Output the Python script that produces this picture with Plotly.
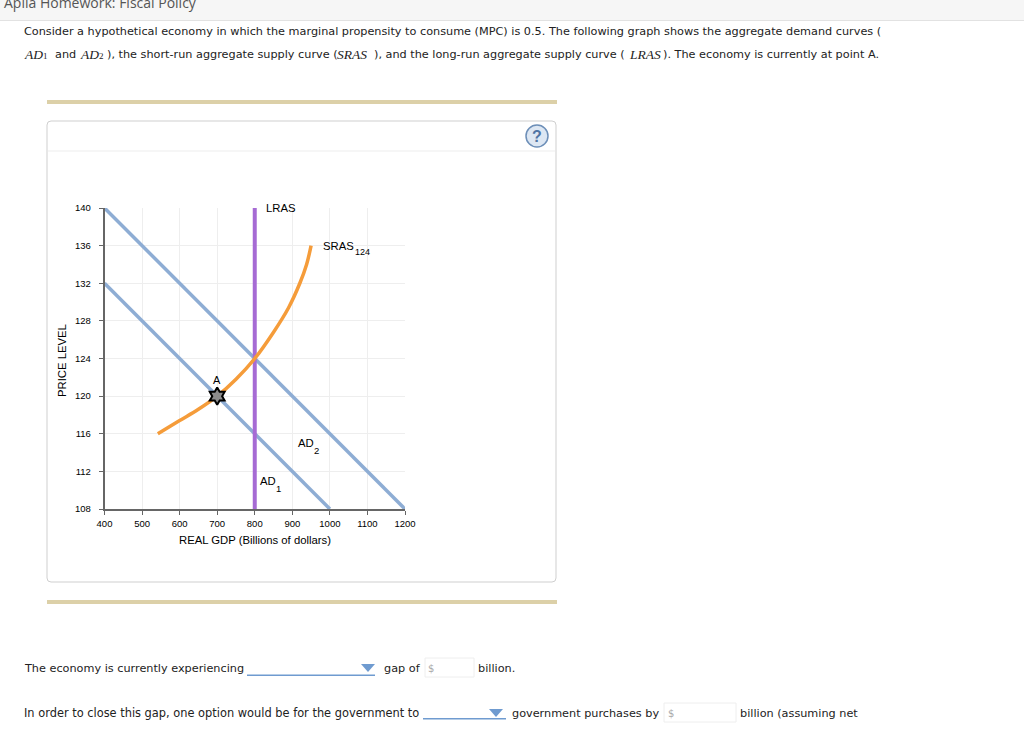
# Recreates the Aplia fiscal policy question page with its AS/AD graph

import plotly.graph_objects as go

W = 1024
H = 729

x_ticks = [400, 500, 600, 700, 800, 900, 1000, 1100, 1200]
y_ticks = [108, 112, 116, 120, 124, 128, 132, 136, 140]

ad1_x = [400, 1000]
ad1_y = [132, 108]
ad2_x = [400, 1200]
ad2_y = [140, 108]
lras_x = [800, 800]
lras_y = [108, 140]
sras_x = [542, 600, 650, 700, 750, 800, 850, 890, 920, 938, 950]
sras_y = [116, 117.4, 118.6, 120, 121.8, 124, 126.8, 129.4, 132, 134, 136]
point_a_x = [700]
point_a_y = [120]

TEXT = "#222222"
BODY_FONT = "DejaVu Sans"
CHART_FONT = "Liberation Sans"
SERIF = "Liberation Serif"
BLUE = "#6f9bd0"


def px(x):
    return x / W


def py(y):
    return 1 - y / H


def page_text(x, y, text, size=11.25, font=BODY_FONT, color=TEXT, anchor="left", **kw):
    return dict(xref="paper", yref="paper", x=px(x), y=py(y), text=text, showarrow=False,
                xanchor=anchor, yanchor="middle", borderpad=0,
                font=dict(family=font, size=size, color=color), **kw)


def chart_text(x, y, text, size=11.3, anchor="left", **kw):
    return page_text(x, y, text, size=size, font=CHART_FONT, color="#000000", anchor=anchor, **kw)


def rect(x0, y0, x1, y1, fill="rgba(0,0,0,0)", line=None, width=1):
    return dict(type="rect", xref="paper", yref="paper", x0=px(x0), x1=px(x1), y0=py(y0), y1=py(y1),
                fillcolor=fill, line=dict(color=line, width=width if line else 0), layer="below")


def triangle(x, y):
    # dropdown arrow, x is the centre and y the top edge
    path = f"M {px(x - 7)} {py(y)} L {px(x + 7)} {py(y)} L {px(x)} {py(y + 8)} Z"
    return dict(type="path", xref="paper", yref="paper", path=path, fillcolor=BLUE, line=dict(width=0))


fig = go.Figure()

fig.add_trace(go.Scatter(x=ad1_x, y=ad1_y, mode="lines", line=dict(color="#8eadd4", width=3.5)))
fig.add_trace(go.Scatter(x=ad2_x, y=ad2_y, mode="lines", line=dict(color="#8eadd4", width=3.5)))
fig.add_trace(go.Scatter(x=lras_x, y=lras_y, mode="lines", line=dict(color="#a66bd4", width=4)))
fig.add_trace(go.Scatter(x=sras_x, y=sras_y, mode="lines",
                         line=dict(color="#f59c3a", width=3.5, shape="spline", smoothing=1)))
fig.add_trace(go.Scatter(x=point_a_x, y=point_a_y, mode="markers", cliponaxis=False,
                         marker=dict(symbol="hexagram", size=13, color="#8c8c8c",
                                     line=dict(color="#000000", width=2))))

shapes = [
    rect(0, 0, W, 20, fill="#f6f6f6"),
    rect(0, 20, W, 21, fill="#e2e2e2"),
    rect(47, 100, 557, 104, fill="#dcd0a8"),
    rect(47, 600, 557, 604, fill="#dcd0a8"),
    dict(type="path", xref="paper", yref="paper", layer="below", fillcolor="#ffffff",
         line=dict(color="#cfcfcf", width=1),
         path=f"M {px(51)} {py(121)} L {px(552)} {py(121)} Q {px(556)} {py(121)} {px(556)} {py(125)} "
              f"L {px(556)} {py(578)} Q {px(556)} {py(582)} {px(552)} {py(582)} "
              f"L {px(51)} {py(582)} Q {px(47)} {py(582)} {px(47)} {py(578)} "
              f"L {px(47)} {py(125)} Q {px(47)} {py(121)} {px(51)} {py(121)} Z"),
    rect(48, 150.5, 555, 151.5, fill="#eeeeee"),
    dict(type="circle", xref="paper", yref="paper", x0=px(526), x1=px(548), y0=py(125), y1=py(147),
         fillcolor="#dde7f3", line=dict(color="#6d8fb8", width=1.5)),
    rect(247, 674.5, 375, 676, fill=BLUE),
    triangle(368, 664),
    rect(425, 658, 474, 677, fill="#ffffff", line="#eeeeee"),
    rect(423, 718, 506, 719.5, fill=BLUE),
    triangle(496, 709),
    rect(664, 703, 736, 722, fill="#ffffff", line="#eeeeee"),
]

help_mark = page_text(537, 137, "?", size=16, font=CHART_FONT, color="#4f74a3", anchor="center")
help_mark["font"]["weight"] = "bold"

annotations = [
    page_text(3, 2, "Aplia Homework: Fiscal Policy", size=14, font="Open Sans", color="#555555"),
    page_text(23, 32, "Consider a hypothetical economy in which the marginal propensity to consume (MPC) "
                      "is 0.5. The following graph shows the aggregate demand curves ("),
    # second line is cut in pieces, the math parts use a serif italic
    page_text(23, 54, "<i>AD</i>", size=13.5, font=SERIF),
    page_text(42, 56, "1", size=9, font=SERIF),
    page_text(54, 54, "and"),
    page_text(78.5, 54, "<i>AD</i>", size=13.5, font=SERIF),
    page_text(98, 56, "2", size=9, font=SERIF),
    page_text(106, 54, "), the short-run aggregate supply curve ("),
    page_text(336, 54, "<i>SRAS</i>", size=13.5, font=SERIF),
    page_text(373, 54, "), and the long-run aggregate supply curve ("),
    page_text(628, 54, "<i>LRAS</i>", size=13.5, font=SERIF),
    page_text(662, 54, "). The economy is currently at point A."),
    help_mark,
    chart_text(281, 208, "LRAS", anchor="center"),
    chart_text(322, 246, "SRAS"),
    chart_text(354, 252, "124", size=9),
    chart_text(297, 443, "AD"),
    chart_text(313, 450, "2", size=9.5),
    chart_text(259, 481, "AD"),
    chart_text(275, 488, "1", size=9.5),
    chart_text(255, 540, "REAL GDP (Billions of dollars)", anchor="center"),
    chart_text(62, 361, "PRICE LEVEL", anchor="center", textangle=-90),
    dict(x=point_a_x[0], y=point_a_y[0], xref="x", yref="y", text="A", showarrow=False, yshift=16,
         font=dict(family=CHART_FONT, size=11, color="#000000")),
    page_text(22.5, 668, "The economy is currently experiencing"),
    page_text(383, 668, "gap of"),
    page_text(427, 668, "$", size=10, color="#aaaaaa"),
    page_text(477, 668, "billion."),
    page_text(23, 713, "In order to close this gap, one option would be for the government to", size=11.4),
    page_text(511, 713, "government purchases by"),
    page_text(667, 713, "$", size=10, color="#aaaaaa"),
    page_text(739, 713, "billion (assuming net"),
]

x_domain = [px(104.5), px(405)]
y_domain = [py(509), py(208)]
tick_font = dict(family=CHART_FONT, size=9.5, color="#000000")

# automargin has to stay off or the paper coordinates above shift
fig.update_layout(
    width=W,
    height=H,
    margin=dict(l=0, r=0, t=0, b=0),
    paper_bgcolor="#ffffff",
    plot_bgcolor="rgba(0,0,0,0)",
    showlegend=False,
    shapes=shapes,
    annotations=annotations,
    xaxis=dict(domain=x_domain, range=[400, 1200], tickvals=x_ticks, ticks="outside", ticklen=4,
               tickcolor="#666666", showline=True, linecolor="#666666", linewidth=1.5, automargin=False,
               gridcolor="#eeeeee", zeroline=False, tickfont=tick_font, ticklabelstandoff=1),
    yaxis=dict(domain=y_domain, range=[108, 140], tickvals=y_ticks, ticks="outside", ticklen=4,
               tickcolor="#666666", showline=True, linecolor="#666666", linewidth=1.5, automargin=False,
               gridcolor="#eeeeee", zeroline=False, tickfont=tick_font, ticklabelstandoff=6),
    # second pair of axes only draws the inner half of the ticks
    xaxis2=dict(domain=x_domain, range=[400, 1200], overlaying="x", anchor="y2", tickvals=x_ticks,
                ticks="inside", ticklen=4, tickcolor="#666666", showticklabels=False, showgrid=False,
                zeroline=False, automargin=False),
    yaxis2=dict(domain=y_domain, range=[108, 140], overlaying="y", anchor="x2", tickvals=y_ticks,
                ticks="inside", ticklen=3, tickcolor="#666666", showticklabels=False, showgrid=False,
                zeroline=False, automargin=False),
)

fig.write_html(
    "out.html",
    config={"displayModeBar": False},
    post_script="document.body.style.margin='0';document.documentElement.style.overflow='hidden';",
)
